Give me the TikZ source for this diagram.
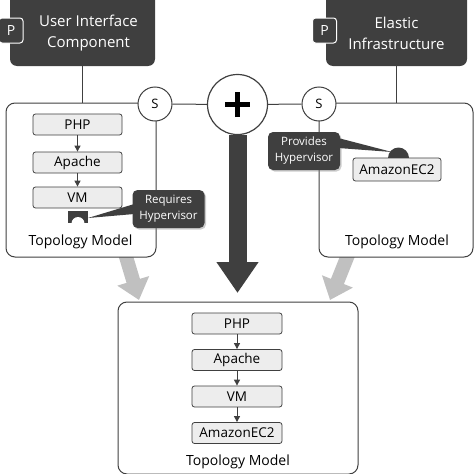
\documentclass[tikz,border=0pt]{standalone}
\usepackage{fontspec}
\setmainfont{Open Sans}
\usetikzlibrary{arrows.meta,shadows,backgrounds}
\definecolor{boxdark}{HTML}{3F3F3F}
\definecolor{compfill}{HTML}{EDEDED}
\definecolor{linegray}{HTML}{404040}
\definecolor{arrowgray}{HTML}{C0C0C0}

\begin{document}
\begin{tikzpicture}[x=1pt, y=-1pt,
	darkbox/.style={fill=boxdark, rounded corners=7pt},
	headtext/.style={text=white, align=center, font=\fontsize{15}{21}\selectfont},
	pbox/.style={fill=boxdark, draw=white, line width=1pt, rounded corners=3pt, text=white, minimum width=24pt, minimum height=25pt, inner sep=0pt, font=\fontsize{14}{16}\selectfont},
	topo/.style={draw=linegray, fill=white, line width=1pt, rounded corners=9pt},
	comp/.style={draw=linegray, fill=compfill, line width=0.8pt, rounded corners=2.5pt, minimum width=89pt, minimum height=21pt, inner sep=0pt, font=\fontsize{13.5}{15}\selectfont},
	topolabel/.style={font=\fontsize{14}{16}\selectfont},
	sport/.style={circle, draw=linegray, fill=white, line width=1pt, minimum size=34pt, inner sep=0pt, font=\fontsize{13}{15}\selectfont},
	dep/.style={draw=linegray, line width=1pt, -{Triangle[length=6pt,width=6pt]}},
	callout/.style={fill=boxdark, rounded corners=5pt, text=white, align=center, minimum width=72pt, minimum height=38pt, inner sep=0pt, font=\fontsize{11.5}{16}\selectfont, drop shadow={shadow xshift=1.5pt, shadow yshift=-1.5pt, opacity=0.4}},
	merge/.style={line width=18pt, draw=boxdark, -{Triangle[length=31pt,width=40pt]}},
	side/.style={line width=14pt, draw=arrowgray, -{Triangle[length=20pt,width=32pt]}}
]
\useasboundingbox (0,0) rectangle (474,474);

% building blocks
\node[darkbox, minimum width=145pt, minimum height=76pt] (ui) at (82.5,28) {};
\node[headtext] (uitext) at (88.5,33) {User Interface\\Component};
\node[pbox] (uip) at (11,30.5) {P};

\node[darkbox, minimum width=141pt, minimum height=76pt] (elastic) at (396.5,28) {};
\node[headtext] (elastictext) at (396.5,33) {Elastic\\Infrastructure};
\node[pbox] (elasticp) at (324.5,30.5) {P};

% topology models
\node[topo, minimum width=150pt, minimum height=154pt] (lefttopo) at (81,180) {};
\node[topo, minimum width=154pt, minimum height=154pt] (righttopo) at (396,180) {};
\node[topo, minimum width=240pt, minimum height=172pt] (mergedtopo) at (238,388) {};

\draw[linegray, line width=1pt] (ui.south) -- (ui.south |- lefttopo.north);
\draw[linegray, line width=1pt] (elastic.south) -- (elastic.south |- righttopo.north);

% substitution and merge
\node[sport] (sleft) at (155,104) {S};
\node[sport] (sright) at (319,104) {S};
\node[circle, draw=linegray, fill=white, line width=1.2pt, minimum size=60pt] (plus) at (237.5,104.5) {};
\draw[linegray, line width=1pt] (sleft) -- (plus) -- (sright);
\draw[black, line width=4.5pt] ([xshift=-12.5pt]plus.center) -- ([xshift=12.5pt]plus.center);
\draw[black, line width=4.5pt] ([yshift=-12.5pt]plus.center) -- ([yshift=12.5pt]plus.center);

\coordinate (mergetip) at (237.5,293);
\draw[merge] (plus.south) -- (mergetip);

\coordinate (lefttail) at (124,250);
\coordinate (lefttip) at (139,300);
\coordinate (righttail) at (350,250);
\coordinate (righttip) at (330,300);
\begin{scope}[on background layer]
\draw[side] (lefttail) -- (lefttip);
\draw[side] (righttail) -- (righttip);
\end{scope}

% left model
\node[comp] (php1) at (77.5,124.5) {PHP};
\node[comp] (apache1) at (77.5,162.5) {Apache};
\node[comp] (vm1) at (77.5,197.5) {VM};
\draw[dep] (php1) -- (apache1);
\draw[dep] (apache1) -- (vm1);
\fill[boxdark] (68,211) rectangle (88,223);
\fill[white] (78,223.5) circle[radius=6.5pt];
\coordinate (req) at (88,218);
\node[callout] (reqcall) at (168.5,209) {Requires\\Hypervisor};
\fill[boxdark] ([shift={(2,-5)}]reqcall.west) -- (req) -- ([shift={(2,5)}]reqcall.west) -- cycle;
\node[topolabel] (lefttitle) at (80.5,242) {Topology Model};

% right model
\fill[boxdark] (398.5,158) circle[radius=10.5pt];
\node[comp, minimum width=88pt, minimum height=23pt] (ec2r) at (397,169.5) {AmazonEC2};
\coordinate (cap) at (392,152);
\node[callout] (capcall) at (304,151) {Provides\\Hypervisor};
\fill[boxdark] ([shift={(-2,-13)}]capcall.east) -- (cap) -- ([shift={(-2,-3)}]capcall.east) -- cycle;
\node[topolabel] (righttitle) at (397,242) {Topology Model};

% merged model
\node[comp, minimum width=90pt] (php2) at (237,323.5) {PHP};
\node[comp, minimum width=90pt] (apache2) at (237,360) {Apache};
\node[comp, minimum width=90pt] (vm2) at (237,396.5) {VM};
\node[comp, minimum width=90pt] (ec2) at (237,433) {AmazonEC2};
\draw[dep] (php2) -- (apache2);
\draw[dep] (apache2) -- (vm2);
\draw[dep] (vm2) -- (ec2);
\node[topolabel] (mergedtitle) at (238,462) {Topology Model};
\end{tikzpicture}
\end{document}
